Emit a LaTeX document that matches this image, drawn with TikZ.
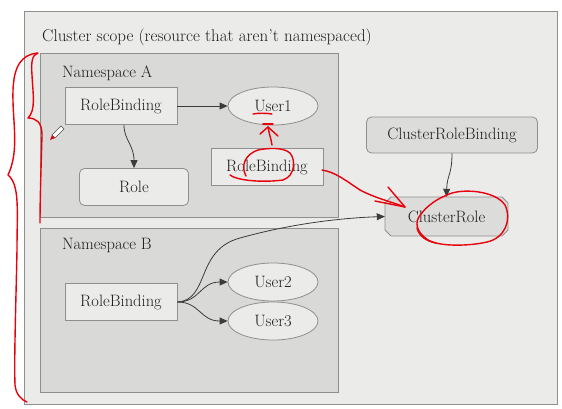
\documentclass[tikz,border=0pt]{standalone}
\usetikzlibrary{arrows.meta,shapes.geometric}
\definecolor{outerfill}{HTML}{EBECEA}
\definecolor{nsfill}{HTML}{D9D9D7}
\definecolor{nodefill}{HTML}{EBECEA}
\definecolor{crfill}{HTML}{DCDCDA}
\definecolor{bordr}{HTML}{8F8F8F}
\definecolor{edgec}{HTML}{3C3C3C}
\definecolor{txt}{HTML}{1E1E1E}
\definecolor{annot}{HTML}{E8000B}
\tikzset{
  clusterbox/.style={draw=bordr, fill=outerfill, line width=0.8pt},
  nsbox/.style={draw=bordr, fill=nsfill, line width=0.8pt},
  rectnode/.style={draw=bordr, fill=nodefill, line width=0.8pt, minimum width=112pt, minimum height=37pt, inner sep=0pt, text=txt, font=\fontsize{16.5}{18}\selectfont},
  roundnode/.style={rectnode, rounded corners=5pt},
  ellnode/.style={ellipse, draw=bordr, fill=nodefill, line width=0.8pt, minimum width=90pt, minimum height=38pt, inner sep=0pt, text=txt, font=\fontsize{16.5}{18}\selectfont},
  lbl/.style={anchor=west, text=txt, font=\fontsize{16.5}{18}\selectfont, inner sep=0pt},
  edge/.style={draw=edgec, line width=0.8pt, -{Triangle[length=8pt,width=7pt]}},
  redpen/.style={draw=annot, line width=1.4pt, line cap=round, line join=round},
}
\begin{document}
\begin{tikzpicture}[x=1pt,y=-1pt]
\useasboundingbox (0,0) rectangle (562,408);
\fill[white] (0,0) rectangle (562,408);
% clusters
\draw[clusterbox] (24,11) rectangle (557,404);
\node[lbl, font=\fontsize{17}{19}\selectfont] (ctitle) at (42,37) {Cluster scope (resource that aren\kern0.5pt\char"2019 t namespaced)};
\draw[nsbox] (40,53) rectangle (338,217);
\node[lbl] (nsa) at (62,73) {Namespace A};
\draw[nsbox] (40,228) rectangle (338,392);
\node[lbl] (nsb) at (62,245) {Namespace B};
% nodes
\node[rectnode] (rba) at (121,106) {RoleBinding};
\node[ellnode] (u1) at (273,106) {User1};
\node[roundnode, minimum width=109pt] (role) at (134,187) {Role};
\node[rectnode] (rb2) at (267,167) {RoleBinding};
\node[rectnode] (rbb) at (121,302) {RoleBinding};
\node[ellnode] (u2) at (273,282) {User2};
\node[ellnode] (u3) at (273,321) {User3};
\node[roundnode, fill=crfill, minimum width=171pt, minimum height=36pt] (crb) at (452,135) {ClusterRoleBinding};
\draw[draw=bordr, fill=crfill, line width=0.8pt]
  (391,197) -- (502,197) -- (508,203) -- (508,230) -- (502,236) -- (391,236) -- (385,230) -- (385,203) -- cycle;
\node[minimum width=123pt, minimum height=39pt, inner sep=0pt, text=txt, font=\fontsize{16.5}{18}\selectfont] (cr) at (446.5,216.5) {ClusterRole};
% edges
\draw[edge] (rba) -- (u1);
\draw[edge] (rba.south) ++(3,0) coordinate (rbas) (rbas) .. controls (124,140) and (134,145) .. (role.north);
\draw[edge] (crb.south) .. controls (452,175) and (447,175) .. (cr.north);
\draw[edge] (rbb.east) .. controls (200,302) and (200,282) .. (u2.west);
\draw[edge] (rbb.east) .. controls (200,302) and (200,321) .. (u3.west);
\draw[edge] (rbb.east) .. controls (210,300) and (195,250) .. (240,238) .. controls (290,224) and (340,218) .. (cr.west);
% red annotations
\draw[redpen] (37,53) .. controls (22,55) and (14,65) .. (13,90) .. controls (12,120) and (20,150) .. (8,175)
  .. controls (20,185) and (17,210) .. (17,250) .. controls (16,300) and (14,360) .. (15,385) .. controls (16,395) and (22,400) .. (27,402);
\draw[redpen] (38,53) .. controls (32,55) and (31,62) .. (32,75) .. controls (33,95) and (36,110) .. (28,118)
  .. controls (36,118) and (42,122) .. (42,135) .. controls (41,170) and (40,200) .. (40,223);
% pencil cursor
\draw[draw=black!70, fill=white, line width=0.6pt] (61,126) -- (64,129) -- (55,138) -- (52,135) -- cycle;
\fill[annot] (52,135) -- (55,138) -- (50,140) -- cycle;
% User1 marks
\draw[redpen] (253,114) .. controls (258,113) and (266,113) .. (272,114);
\draw[redpen] (263,124) -- (273,124);
\draw[redpen] (272,145) .. controls (271,139) and (269,133) .. (268,127);
\draw[redpen] (260,134) -- (268,127) -- (278,136);
% loop around RoleBinding
\draw[redpen] (230,175) .. controls (236,180) and (260,183) .. (283,180) .. controls (295,176) and (296,160) .. (290,153)
  .. controls (283,147) and (268,148) .. (258,150) .. controls (246,154) and (240,165) .. (246,176);
% arrow to ClusterRole
\draw[redpen] (322,170) .. controls (335,172) and (345,180) .. (360,190) .. controls (375,198) and (392,202) .. (405,207);
\draw[redpen] (388,187) -- (405,207) -- (375,201);
% loop around ClusterRole
\draw[redpen] (447,195) .. controls (460,188) and (495,190) .. (505,205) .. controls (512,220) and (505,238) .. (487,242)
  .. controls (470,246) and (440,247) .. (428,240) .. controls (416,232) and (414,222) .. (421,214) .. controls (428,205) and (437,199) .. (447,195);
\draw[redpen] (417,228) .. controls (419,236) and (426,241) .. (436,243);
\end{tikzpicture}
\end{document}
